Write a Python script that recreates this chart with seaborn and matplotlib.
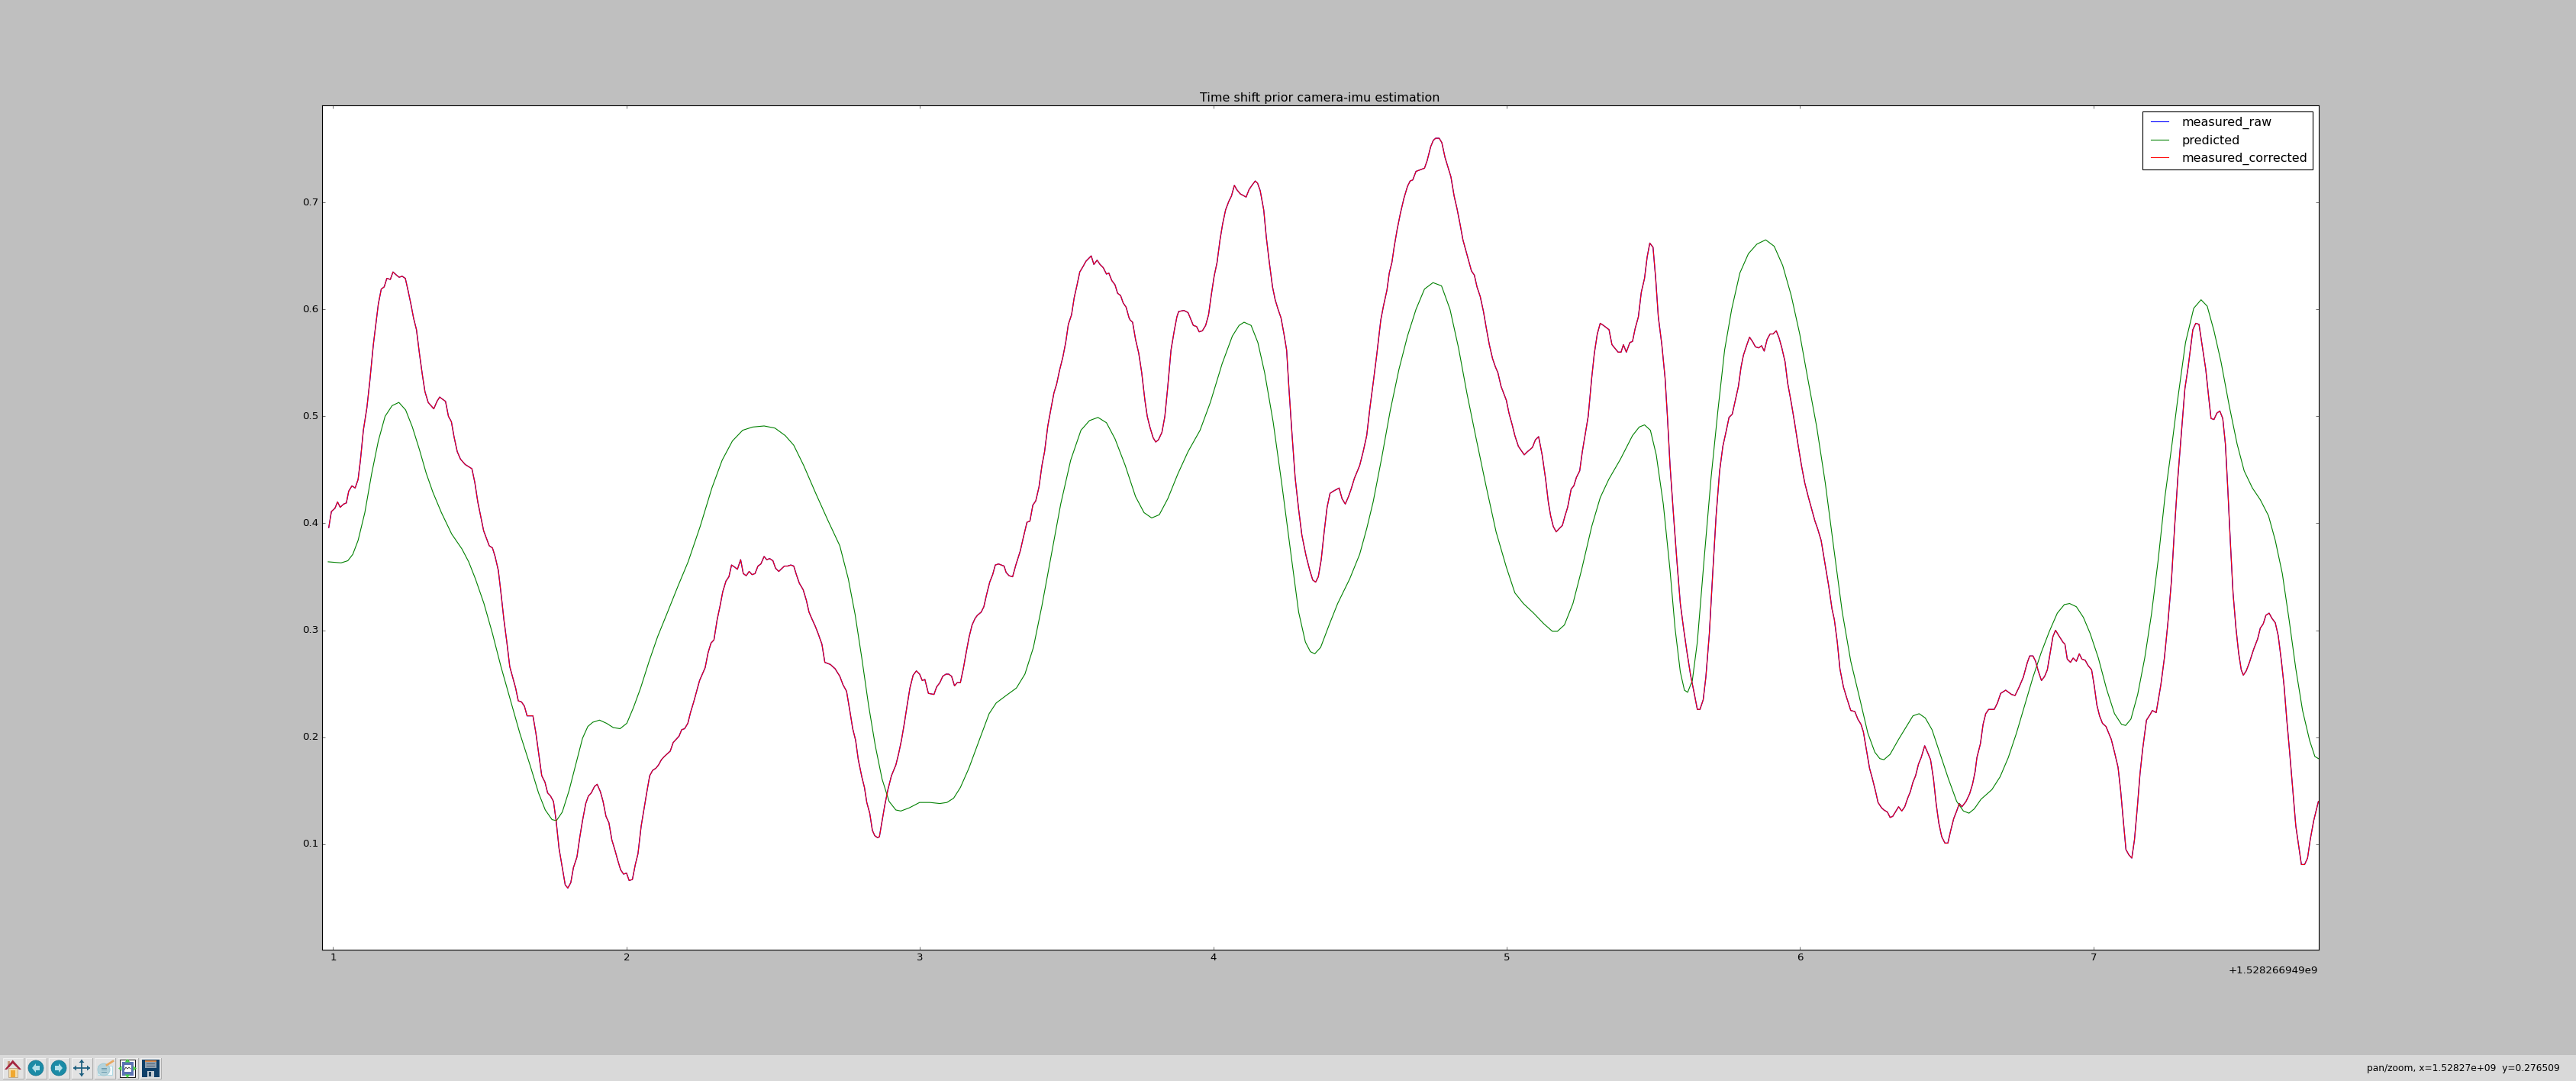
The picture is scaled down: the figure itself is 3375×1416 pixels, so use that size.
import matplotlib
matplotlib.use('Agg')
import matplotlib.pyplot as plt
import seaborn as sns
from matplotlib.patches import Circle, Polygon, Rectangle
from matplotlib.ticker import ScalarFormatter

OFFSET = 1.528266949e9

# measured signal, time in seconds after OFFSET
t_measured = [0.985, 0.994, 1.006, 1.015, 1.024, 1.036, 1.045, 1.053, 1.064, 1.075, 1.085, 1.093, 1.103, 1.115, 1.125, 1.137, 1.154, 1.164, 1.174, 1.183, 1.195, 1.204, 1.216, 1.225, 1.235, 1.246, 1.255, 1.265, 1.274, 1.284, 1.294, 1.304, 1.313, 1.324, 1.343, 1.354, 1.363, 1.383, 1.393, 1.403, 1.412, 1.423, 1.434, 1.450, 1.473, 1.483, 1.493, 1.513, 1.532, 1.543, 1.552, 1.563, 1.572, 1.582, 1.592, 1.602, 1.611, 1.622, 1.631, 1.642, 1.652, 1.661, 1.681, 1.691, 1.701, 1.711, 1.722, 1.731, 1.741, 1.751, 1.760, 1.770, 1.781, 1.791, 1.800, 1.810, 1.819, 1.831, 1.841, 1.850, 1.861, 1.870, 1.880, 1.891, 1.900, 1.911, 1.920, 1.930, 1.940, 1.950, 1.961, 1.970, 1.980, 1.990, 2.000, 2.009, 2.020, 2.030, 2.039, 2.050, 2.070, 2.079, 2.089, 2.100, 2.109, 2.119, 2.129, 2.149, 2.159, 2.179, 2.188, 2.198, 2.209, 2.218, 2.229, 2.239, 2.249, 2.268, 2.278, 2.288, 2.298, 2.309, 2.319, 2.328, 2.339, 2.349, 2.358, 2.369, 2.378, 2.389, 2.398, 2.408, 2.418, 2.428, 2.438, 2.448, 2.458, 2.469, 2.478, 2.488, 2.499, 2.508, 2.519, 2.538, 2.549, 2.560, 2.570, 2.579, 2.589, 2.602, 2.613, 2.622, 2.633, 2.643, 2.653, 2.666, 2.676, 2.695, 2.711, 2.727,
              2.738, 2.750, 2.761, 2.771, 2.781, 2.790, 2.802, 2.811, 2.819, 2.829, 2.838, 2.846, 2.856, 2.862, 2.870, 2.880, 2.891, 2.903, 2.918, 2.927, 2.937, 2.947, 2.956, 2.966, 2.977, 2.988, 2.999, 3.008, 3.017, 3.029, 3.048, 3.057, 3.068, 3.078, 3.089, 3.098, 3.108, 3.118, 3.127, 3.138, 3.148, 3.159, 3.168, 3.178, 3.188, 3.196, 3.209, 3.218, 3.227, 3.238, 3.248, 3.257, 3.268, 3.287, 3.294, 3.304, 3.316, 3.327, 3.342, 3.352, 3.365, 3.375, 3.385, 3.395, 3.406, 3.416, 3.425, 3.436, 3.446, 3.457, 3.466, 3.476, 3.487, 3.497, 3.506, 3.517, 3.526, 3.535, 3.545, 3.556, 3.566, 3.584, 3.593, 3.604, 3.614, 3.625, 3.636, 3.644, 3.654, 3.665, 3.674, 3.684, 3.693, 3.703, 3.713, 3.717, 3.725, 3.735, 3.746, 3.756, 3.767, 3.775, 3.784, 3.795, 3.804, 3.813, 3.825, 3.835, 3.845, 3.856, 3.867, 3.876, 3.882, 3.900, 3.914, 3.923, 3.932, 3.943, 3.952, 3.963, 3.974, 3.984, 3.993, 4.003, 4.013, 4.023, 4.032, 4.042, 4.053, 4.062, 4.072, 4.080, 4.092, 4.112, 4.122, 4.132, 4.143, 4.151, 4.160, 4.172, 4.181, 4.191, 4.202, 4.211, 4.221, 4.231, 4.241, 4.250, 4.258, 4.268, 4.279, 4.291, 4.302, 4.316, 4.328, 4.339, 4.349, 4.358, 4.368, 4.378, 4.388, 4.398, 4.409, 4.429, 4.439, 4.450, 4.461, 4.470, 4.481, 4.499, 4.511, 4.523, 4.534, 4.545,
              4.557, 4.571, 4.580, 4.592, 4.600, 4.609, 4.617, 4.627, 4.638, 4.650, 4.662, 4.671, 4.680, 4.691, 4.720, 4.729, 4.741, 4.750, 4.758, 4.770, 4.779, 4.790, 4.799, 4.810, 4.821, 4.831, 4.841, 4.851, 4.862, 4.872, 4.880, 4.890, 4.899, 4.910, 4.921, 4.931, 4.941, 4.952, 4.962, 4.970, 4.981, 4.999, 5.008, 5.019, 5.028, 5.040, 5.050, 5.060, 5.071, 5.080, 5.088, 5.098, 5.109, 5.121, 5.133, 5.142, 5.150, 5.159, 5.169, 5.179, 5.190, 5.199, 5.208, 5.220, 5.229, 5.238, 5.249, 5.258, 5.269, 5.278, 5.290, 5.299, 5.309, 5.319, 5.330, 5.349, 5.359, 5.371, 5.380, 5.390, 5.398, 5.408, 5.420, 5.429, 5.438, 5.449, 5.459, 5.470, 5.479, 5.488, 5.499, 5.508, 5.517, 5.529, 5.540, 5.548, 5.557, 5.569, 5.580, 5.592, 5.603, 5.615, 5.627, 5.638, 5.650, 5.659, 5.670, 5.679, 5.691, 5.702, 5.714, 5.726, 5.737, 5.749, 5.758, 5.769, 5.778, 5.790, 5.799, 5.807, 5.819, 5.828, 5.838, 5.848, 5.859, 5.869, 5.878, 5.888, 5.898, 5.908, 5.919, 5.929, 5.938, 5.949, 5.958, 5.970, 5.981, 5.993, 6.005, 6.016, 6.028, 6.040, 6.051, 6.060, 6.072, 6.086, 6.098, 6.109, 6.117, 6.127, 6.136, 6.148, 6.159, 6.173, 6.187, 6.197, 6.208, 6.216, 6.226, 6.237, 6.247, 6.257, 6.266, 6.278, 6.286, 6.298, 6.307, 6.316, 6.327, 6.336, 6.347, 6.357, 6.367,
              6.376, 6.385, 6.394, 6.404, 6.413, 6.425, 6.436, 6.445, 6.455, 6.464, 6.473, 6.483, 6.494, 6.504, 6.513, 6.524, 6.534, 6.543, 6.552, 6.566, 6.578, 6.588, 6.597, 6.603, 6.615, 6.624, 6.633, 6.643, 6.662, 6.673, 6.684, 6.701, 6.721, 6.733, 6.747, 6.761, 6.775, 6.783, 6.794, 6.803, 6.812, 6.823, 6.834, 6.843, 6.854, 6.862, 6.871, 6.882, 6.896, 6.903, 6.911, 6.922, 6.931, 6.942, 6.952, 6.961, 6.972, 6.982, 6.994, 7.003, 7.012, 7.021, 7.031, 7.043, 7.061, 7.072, 7.084, 7.093, 7.102, 7.111, 7.121, 7.131, 7.140, 7.150, 7.159, 7.168, 7.181, 7.193, 7.201, 7.214, 7.230, 7.242, 7.254, 7.266, 7.277, 7.288, 7.300, 7.312, 7.323, 7.339, 7.349, 7.360, 7.372, 7.383, 7.393, 7.401, 7.411, 7.421, 7.431, 7.441, 7.450, 7.458, 7.467, 7.476, 7.486, 7.495, 7.504, 7.511, 7.521, 7.532, 7.546, 7.560, 7.569, 7.579, 7.588, 7.599, 7.609, 7.620, 7.630, 7.641, 7.650, 7.659, 7.669, 7.679, 7.690, 7.701, 7.709, 7.720, 7.730, 7.739, 7.751, 7.767]

measured_corrected = [0.396, 0.411, 0.414, 0.420, 0.415, 0.418, 0.419, 0.430, 0.435, 0.433, 0.441, 0.459, 0.487, 0.508, 0.533, 0.567, 0.605, 0.619, 0.621, 0.629, 0.628, 0.635, 0.632, 0.630, 0.631, 0.629, 0.618, 0.605, 0.592, 0.581, 0.559, 0.539, 0.523, 0.513, 0.507, 0.514, 0.518, 0.514, 0.500, 0.495, 0.481, 0.467, 0.460, 0.455, 0.451, 0.438, 0.420, 0.393, 0.379, 0.377, 0.369, 0.356, 0.335, 0.310, 0.289, 0.266, 0.257, 0.246, 0.234, 0.233, 0.229, 0.220, 0.220, 0.204, 0.184, 0.164, 0.158, 0.148, 0.145, 0.140, 0.122, 0.096, 0.078, 0.062, 0.059, 0.064, 0.078, 0.088, 0.107, 0.122, 0.138, 0.145, 0.148, 0.154, 0.156, 0.149, 0.140, 0.126, 0.120, 0.104, 0.094, 0.085, 0.076, 0.072, 0.073, 0.066, 0.067, 0.081, 0.091, 0.117, 0.150, 0.164, 0.169, 0.171, 0.174, 0.179, 0.182, 0.187, 0.195, 0.201, 0.207, 0.208, 0.213, 0.223, 0.233, 0.243, 0.253, 0.265, 0.279, 0.288, 0.291, 0.310, 0.323, 0.336, 0.346, 0.350, 0.361, 0.359, 0.357, 0.366, 0.353, 0.351, 0.355, 0.352, 0.353, 0.360, 0.362, 0.369, 0.366, 0.367, 0.365, 0.358, 0.355, 0.360, 0.360, 0.361, 0.360, 0.352, 0.344, 0.338, 0.328, 0.317, 0.310, 0.304, 0.297, 0.287, 0.270, 0.268, 0.264, 0.257,
                      0.249, 0.243, 0.225, 0.208, 0.197, 0.179, 0.163, 0.153, 0.139, 0.129, 0.113, 0.108, 0.106, 0.107, 0.120, 0.136, 0.151, 0.164, 0.174, 0.184, 0.197, 0.213, 0.229, 0.246, 0.258, 0.262, 0.259, 0.253, 0.254, 0.241, 0.240, 0.247, 0.251, 0.257, 0.259, 0.259, 0.257, 0.248, 0.251, 0.251, 0.264, 0.281, 0.294, 0.305, 0.311, 0.314, 0.317, 0.322, 0.333, 0.345, 0.352, 0.361, 0.362, 0.360, 0.354, 0.351, 0.350, 0.361, 0.374, 0.386, 0.401, 0.402, 0.417, 0.421, 0.434, 0.454, 0.467, 0.491, 0.506, 0.522, 0.530, 0.543, 0.555, 0.569, 0.586, 0.595, 0.611, 0.622, 0.635, 0.640, 0.645, 0.650, 0.642, 0.646, 0.642, 0.639, 0.633, 0.634, 0.627, 0.623, 0.615, 0.613, 0.606, 0.602, 0.592, 0.590, 0.588, 0.572, 0.559, 0.541, 0.515, 0.500, 0.490, 0.480, 0.476, 0.478, 0.485, 0.500, 0.528, 0.562, 0.580, 0.593, 0.598, 0.599, 0.597, 0.591, 0.585, 0.584, 0.579, 0.580, 0.585, 0.595, 0.613, 0.631, 0.644, 0.665, 0.680, 0.693, 0.701, 0.706, 0.716, 0.712, 0.708, 0.705, 0.712, 0.716, 0.720, 0.718, 0.711, 0.693, 0.667, 0.644, 0.621, 0.609, 0.600, 0.592, 0.577, 0.562, 0.526, 0.485, 0.443, 0.413, 0.389, 0.370, 0.357, 0.347, 0.345, 0.350, 0.366, 0.392, 0.415, 0.428, 0.430, 0.433, 0.423, 0.418, 0.425, 0.432, 0.442, 0.454, 0.467, 0.482, 0.508, 0.531,
                      0.557, 0.590, 0.603, 0.618, 0.634, 0.644, 0.659, 0.675, 0.690, 0.704, 0.715, 0.720, 0.721, 0.729, 0.732, 0.739, 0.752, 0.758, 0.760, 0.760, 0.756, 0.742, 0.734, 0.724, 0.706, 0.694, 0.680, 0.665, 0.654, 0.644, 0.636, 0.632, 0.621, 0.612, 0.598, 0.582, 0.567, 0.554, 0.546, 0.541, 0.528, 0.515, 0.503, 0.492, 0.482, 0.472, 0.468, 0.464, 0.467, 0.469, 0.471, 0.478, 0.481, 0.464, 0.441, 0.420, 0.407, 0.397, 0.392, 0.395, 0.398, 0.407, 0.415, 0.432, 0.435, 0.443, 0.449, 0.467, 0.485, 0.500, 0.536, 0.559, 0.577, 0.587, 0.585, 0.581, 0.567, 0.563, 0.560, 0.560, 0.567, 0.560, 0.569, 0.570, 0.582, 0.593, 0.616, 0.629, 0.649, 0.662, 0.658, 0.629, 0.593, 0.567, 0.536, 0.500, 0.454, 0.407, 0.366, 0.325, 0.302, 0.279, 0.258, 0.243, 0.226, 0.226, 0.235, 0.256, 0.297, 0.351, 0.407, 0.449, 0.472, 0.487, 0.499, 0.502, 0.513, 0.528, 0.546, 0.557, 0.567, 0.574, 0.570, 0.565, 0.564, 0.566, 0.561, 0.572, 0.577, 0.577, 0.580, 0.573, 0.564, 0.551, 0.531, 0.513, 0.495, 0.474, 0.454, 0.438, 0.425, 0.413, 0.402, 0.395, 0.384, 0.361, 0.341, 0.320, 0.310, 0.289, 0.264, 0.247, 0.237, 0.225, 0.224, 0.217, 0.212, 0.205, 0.189, 0.171, 0.161, 0.150, 0.139, 0.134, 0.132, 0.130, 0.125, 0.126, 0.131, 0.135, 0.131, 0.135, 0.143,
                      0.149, 0.158, 0.164, 0.175, 0.181, 0.192, 0.185, 0.179, 0.161, 0.138, 0.120, 0.107, 0.101, 0.101, 0.112, 0.124, 0.131, 0.138, 0.135, 0.140, 0.147, 0.156, 0.168, 0.181, 0.194, 0.212, 0.222, 0.226, 0.226, 0.232, 0.241, 0.244, 0.240, 0.239, 0.247, 0.256, 0.270, 0.276, 0.276, 0.271, 0.262, 0.253, 0.257, 0.263, 0.281, 0.294, 0.300, 0.295, 0.289, 0.287, 0.273, 0.270, 0.274, 0.271, 0.278, 0.273, 0.272, 0.267, 0.263, 0.248, 0.230, 0.220, 0.213, 0.210, 0.198, 0.186, 0.172, 0.150, 0.122, 0.095, 0.090, 0.087, 0.104, 0.135, 0.166, 0.189, 0.216, 0.221, 0.225, 0.223, 0.249, 0.274, 0.307, 0.346, 0.397, 0.443, 0.485, 0.526, 0.546, 0.581, 0.587, 0.586, 0.564, 0.544, 0.518, 0.498, 0.497, 0.503, 0.505, 0.498, 0.474, 0.433, 0.382, 0.335, 0.302, 0.279, 0.263, 0.258, 0.262, 0.270, 0.282, 0.292, 0.302, 0.306, 0.314, 0.316, 0.311, 0.307, 0.295, 0.271, 0.248, 0.217, 0.186, 0.153, 0.117, 0.096, 0.081, 0.081, 0.087, 0.104, 0.122, 0.140]

# raw and corrected lie on top of each other in this run
measured_raw = list(measured_corrected)

# predicted signal
t_predicted = [0.983, 1.027, 1.050, 1.067, 1.085, 1.108, 1.131, 1.154, 1.177, 1.201, 1.224, 1.247, 1.270, 1.294, 1.317, 1.340, 1.369, 1.404, 1.439, 1.462, 1.485, 1.514, 1.543, 1.572, 1.601, 1.636, 1.671, 1.700, 1.723, 1.746, 1.761, 1.781, 1.804, 1.833, 1.850, 1.868, 1.885, 1.908, 1.932, 1.955, 1.978, 2.001, 2.024, 2.048, 2.077, 2.106, 2.140, 2.175, 2.210, 2.251, 2.291, 2.326, 2.361, 2.396, 2.430, 2.469, 2.506, 2.541, 2.570, 2.604, 2.645, 2.686, 2.727,
               2.756, 2.779, 2.802, 2.825, 2.848, 2.871, 2.895, 2.918, 2.935, 2.964, 2.999, 3.034, 3.068, 3.092, 3.115, 3.138, 3.167, 3.202, 3.236, 3.260, 3.294, 3.329, 3.358, 3.387, 3.416, 3.445, 3.480, 3.514, 3.549, 3.578, 3.607, 3.636, 3.665, 3.700, 3.735, 3.764, 3.790, 3.816, 3.845, 3.879, 3.914, 3.955, 3.990, 4.030, 4.065, 4.088, 4.105, 4.129, 4.152, 4.175, 4.204, 4.233, 4.262, 4.291, 4.314, 4.331, 4.346, 4.366, 4.395, 4.424, 4.465, 4.499, 4.523, 4.545,
               4.574, 4.603, 4.633, 4.662, 4.691, 4.720, 4.749, 4.778, 4.807, 4.836, 4.865, 4.894, 4.929, 4.964, 4.999, 5.028, 5.057, 5.092, 5.127, 5.156, 5.173, 5.197, 5.226, 5.255, 5.290, 5.319, 5.348, 5.388, 5.429, 5.452, 5.470, 5.490, 5.510, 5.534, 5.557, 5.574, 5.592, 5.606, 5.617, 5.633, 5.650, 5.673, 5.697, 5.720, 5.743, 5.767, 5.795, 5.824, 5.853, 5.883, 5.912, 5.941, 5.970, 5.999, 6.028, 6.057, 6.086, 6.115, 6.144, 6.173, 6.202, 6.231, 6.255, 6.272, 6.286, 6.307, 6.336, 6.367,
               6.385, 6.406, 6.427, 6.450, 6.478, 6.506, 6.534, 6.557, 6.576, 6.594, 6.617, 6.654, 6.682, 6.710, 6.738, 6.766, 6.794, 6.822, 6.850, 6.877, 6.901, 6.919, 6.942, 6.966, 6.989, 7.017, 7.045, 7.072, 7.096, 7.110, 7.128, 7.151, 7.175, 7.198, 7.221, 7.244, 7.268, 7.286, 7.314, 7.342, 7.367, 7.388, 7.411, 7.435, 7.463, 7.490, 7.514, 7.542, 7.569, 7.597, 7.620, 7.644, 7.667, 7.690, 7.713, 7.737, 7.755, 7.767]

predicted = [0.364, 0.363, 0.365, 0.371, 0.384, 0.410, 0.446, 0.477, 0.500, 0.510, 0.513, 0.506, 0.490, 0.469, 0.447, 0.429, 0.410, 0.390, 0.376, 0.364, 0.348, 0.325, 0.297, 0.266, 0.238, 0.204, 0.174, 0.148, 0.132, 0.123, 0.122, 0.130, 0.150, 0.181, 0.199, 0.210, 0.214, 0.216, 0.213, 0.209, 0.208, 0.213, 0.228, 0.246, 0.271, 0.294, 0.317, 0.341, 0.364, 0.397, 0.433, 0.459, 0.477, 0.487, 0.490, 0.491, 0.489, 0.482, 0.473, 0.454, 0.428, 0.403, 0.379,
             0.348, 0.315, 0.274, 0.230, 0.192, 0.161, 0.140, 0.132, 0.131, 0.134, 0.139, 0.139, 0.138, 0.139, 0.143, 0.153, 0.171, 0.197, 0.222, 0.232, 0.239, 0.246, 0.259, 0.284, 0.323, 0.366, 0.418, 0.459, 0.487, 0.496, 0.499, 0.494, 0.479, 0.454, 0.425, 0.410, 0.405, 0.408, 0.423, 0.446, 0.467, 0.487, 0.513, 0.549, 0.575, 0.585, 0.588, 0.585, 0.569, 0.541, 0.495, 0.438, 0.377, 0.317, 0.289, 0.280, 0.278, 0.284, 0.305, 0.325, 0.348, 0.371, 0.395, 0.420,
             0.461, 0.505, 0.544, 0.575, 0.600, 0.619, 0.625, 0.622, 0.600, 0.564, 0.521, 0.482, 0.436, 0.392, 0.359, 0.335, 0.325, 0.316, 0.306, 0.299, 0.299, 0.305, 0.325, 0.356, 0.397, 0.424, 0.441, 0.460, 0.482, 0.490, 0.492, 0.487, 0.464, 0.418, 0.356, 0.302, 0.261, 0.244, 0.242, 0.253, 0.289, 0.366, 0.443, 0.505, 0.562, 0.600, 0.634, 0.652, 0.661, 0.665, 0.659, 0.641, 0.613, 0.577, 0.533, 0.490, 0.438, 0.377, 0.317, 0.271, 0.238, 0.204, 0.186, 0.180, 0.179, 0.184, 0.198, 0.212,
             0.220, 0.222, 0.218, 0.207, 0.184, 0.161, 0.140, 0.131, 0.129, 0.133, 0.142, 0.151, 0.163, 0.181, 0.204, 0.230, 0.256, 0.279, 0.299, 0.316, 0.324, 0.325, 0.322, 0.312, 0.297, 0.274, 0.245, 0.222, 0.212, 0.211, 0.217, 0.240, 0.274, 0.315, 0.366, 0.425, 0.474, 0.513, 0.569, 0.601, 0.609, 0.603, 0.580, 0.551, 0.510, 0.474, 0.449, 0.433, 0.422, 0.407, 0.384, 0.353, 0.310, 0.264, 0.225, 0.197, 0.182, 0.180]

y_ticks = [0.1, 0.2, 0.3, 0.4, 0.5, 0.6, 0.7]
x_ticks = [1, 2, 3, 4, 5, 6, 7]

plt.style.use('classic')

W, H, BAR = 3375, 1416, 34
fig = plt.figure(figsize=(W / 80, H / 80), dpi=80, facecolor='#bfbfbf')

# the plot canvas sits above the window toolbar
canvas_h = H - BAR
ax = fig.add_axes([0.125, (BAR + 0.1 * canvas_h) / H, 0.775, 0.8 * canvas_h / H])

sns.lineplot(x=[OFFSET + v for v in t_measured], y=measured_raw, color='b', lw=1.2,
             label='measured_raw', estimator=None, sort=False, ax=ax)
sns.lineplot(x=[OFFSET + v for v in t_predicted], y=predicted, color='g', lw=1.0,
             label='predicted', estimator=None, sort=False, ax=ax)
sns.lineplot(x=[OFFSET + v for v in t_measured], y=measured_corrected, color='r', lw=1.0,
             label='measured_corrected', estimator=None, sort=False, ax=ax)

ax.set_xlim(OFFSET + 0.962, OFFSET + 7.767)
ax.set_ylim(0.0015, 0.7906)
ax.set_xticks([OFFSET + v for v in x_ticks])
ax.set_yticks(y_ticks)
ax.xaxis.set_major_formatter(ScalarFormatter(useOffset=OFFSET))
ax.set_title('Time shift prior camera-imu estimation')
ax.legend(loc='upper right')
for line in ax.get_legend().get_lines():
    line.set_linewidth(1.0)

# window toolbar strip, drawn in pixel coordinates
bar = fig.add_axes([0, 0, 1, BAR / H])
bar.set_xlim(0, W)
bar.set_ylim(BAR, 0)
bar.axis('off')
bar.add_patch(Rectangle((0, 0), W, BAR, color='#d9d9d9', lw=0))


def poly(points, color):
    bar.add_patch(Polygon(points, closed=True, fc=color, ec='none'))


def box(x, y, w, h, color, edge='none'):
    bar.add_patch(Rectangle((x, y), w, h, fc=color, ec=edge, lw=0.8))


# button faces
for bx in [3.5, 33.5, 63.5, 93.5, 123.5, 154, 184]:
    box(bx, 3.5, 27, 27, '#e2e2e2', '#f4f4f4')
    bar.plot([bx + 27, bx + 27, bx], [3.5, 30.5, 30.5], color='#a6a6a6', lw=0.8)

# home
box(10, 8, 3, 8, '#c79a7e')
box(11, 17, 12, 12, '#f4dcaa', '#b9a58a')
box(14, 20, 6, 9, '#f0a830')
poly([(16.7, 6.5), (28, 19), (25, 19), (16.7, 11), (9, 19), (6, 19)], '#a3253f')

# back, forward
for cx, sign in [(47, -1), (77, 1)]:
    bar.add_patch(Circle((cx, 17), 10, fc='#1b8ba6', ec='#0f6f8a', lw=0.6))
    poly([(cx + 5 * sign, 17), (cx, 11), (cx, 14), (cx - 5 * sign, 14),
          (cx - 5 * sign, 20), (cx, 20), (cx, 23)], '#b4e0ea')

# pan
bar.plot([97, 117], [17, 17], color='#1f6080', lw=1.6)
bar.plot([107, 107], [7, 27], color='#1f6080', lw=1.6)
poly([(96, 17), (100, 13.5), (100, 20.5)], '#1f6080')
poly([(118, 17), (114, 13.5), (114, 20.5)], '#1f6080')
poly([(107, 6), (103.5, 10), (110.5, 10)], '#1f6080')
poly([(107, 28), (103.5, 24), (110.5, 24)], '#1f6080')

# zoom to rectangle
box(128, 14, 19, 12, '#f2fafc', '#a8d8e4')
bar.plot([140, 148], [13, 8], color='#e8a860', lw=2.4)
bar.add_patch(Circle((136, 19), 8, fc='#b4d2da', ec='#9cc8d4', lw=0.8))
for ly in [16.5, 19, 21.5]:
    bar.plot([133, 139], [ly, ly], color='#5f93a8', lw=0.8)

# subplots
box(157, 6, 20, 23, 'white', 'black')
box(159.5, 8.5, 15, 18, '#5b72b3')
box(162.5, 13, 9, 9, 'white')
bar.plot([163, 165, 167, 169, 171], [19, 16, 18, 16, 18], color='#222222', lw=0.7)
poly([(167, 5), (163.5, 9.5), (170.5, 9.5)], '#48d048')
poly([(167, 30), (163.5, 25.5), (170.5, 25.5)], '#48d048')
poly([(155, 17.5), (159.5, 14), (159.5, 21)], '#48d048')
poly([(179, 17.5), (174.5, 14), (174.5, 21)], '#48d048')

# save
box(185.5, 6, 23.5, 22.5, '#0f3f68')
box(189.5, 7, 15, 10, '#8f9fae')
box(189.5, 7, 15, 1.8, '#d8884a')
for ly in [11, 14]:
    bar.plot([192, 202], [ly, ly], color='#40566c', lw=0.7)
box(192.5, 21, 9.5, 7.5, '#c4ccd4')
box(195, 22, 3, 6, '#25455f')

bar.text(3354, 17, 'pan/zoom, x=1.52827e+09  y=0.276509', ha='right', va='center', fontsize=11)

fig.savefig('out.png', dpi=80, facecolor=fig.get_facecolor())
